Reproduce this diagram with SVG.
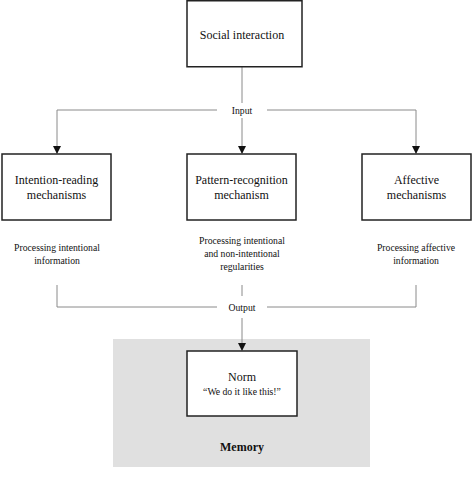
<svg xmlns="http://www.w3.org/2000/svg" width="474" height="479" viewBox="0 0 474 479">
<style>
.box{fill:#fff;stroke:#222;stroke-width:1.5}
text{font-family:'Liberation Serif','Times New Roman','DejaVu Serif',serif;fill:#111;text-anchor:middle}
.t{font-size:12px}
.s{font-size:9.7px}
.c{fill:none;stroke:#8a8a8a;stroke-width:1}
</style>
<defs>
<marker id="ah" markerWidth="8" markerHeight="8" refX="7" refY="4" orient="auto" markerUnits="userSpaceOnUse">
<path d="M0,0 L8,4 L0,8 Z" fill="#111"/>
</marker>
</defs>
<rect id="memory-area" x="113" y="339" width="257" height="128" fill="#e0e0e0"/>
<g id="connectors">
<line class="c" x1="242" y1="67" x2="242" y2="103"/>
<line class="c" x1="242" y1="118" x2="242" y2="153" marker-end="url(#ah)"/>
<polyline class="c" points="217,110 57,110 57,153" marker-end="url(#ah)"/>
<polyline class="c" points="267,110 416,110 416,153" marker-end="url(#ah)"/>
<text class="s" x="242" y="114">Input</text>
<line class="c" x1="242" y1="285" x2="242" y2="296"/>
<polyline class="c" points="57,285 57,307 217,307"/>
<polyline class="c" points="416,285 416,307 267,307"/>
<line class="c" x1="242" y1="318" x2="242" y2="350" marker-end="url(#ah)"/>
<text class="s" x="242" y="311">Output</text>
</g>
<g id="social-interaction">
<rect class="box" x="187" y="0.75" width="115" height="66"/>
<text class="t" x="242" y="39">Social interaction</text>
</g>
<g id="intention-reading">
<rect class="box" x="2" y="154" width="109" height="66"/>
<text class="t" x="56.5" y="184">Intention-reading</text>
<text class="t" x="56.5" y="199">mechanisms</text>
<text class="s" x="57" y="251">Processing intentional</text>
<text class="s" x="57" y="264">information</text>
</g>
<g id="pattern-recognition">
<rect class="box" x="187" y="154" width="109" height="66"/>
<text class="t" x="241.5" y="184">Pattern-recognition</text>
<text class="t" x="241.5" y="199">mechanism</text>
<text class="s" x="242" y="244">Processing intentional</text>
<text class="s" x="242" y="257">and non-intentional</text>
<text class="s" x="242" y="270">regularities</text>
</g>
<g id="affective">
<rect class="box" x="362" y="154" width="109" height="66"/>
<text class="t" x="416.5" y="184">Affective</text>
<text class="t" x="416.5" y="199">mechanisms</text>
<text class="s" x="416" y="251">Processing affective</text>
<text class="s" x="416" y="264">information</text>
</g>
<g id="norm">
<rect class="box" x="187" y="351" width="110" height="65"/>
<text class="t" x="242" y="381">Norm</text>
<text class="s" x="242" y="395">“We do it like this!”</text>
</g>
<g id="memory-label">
<text class="t" x="242" y="451" font-weight="bold">Memory</text>
</g>
</svg>
